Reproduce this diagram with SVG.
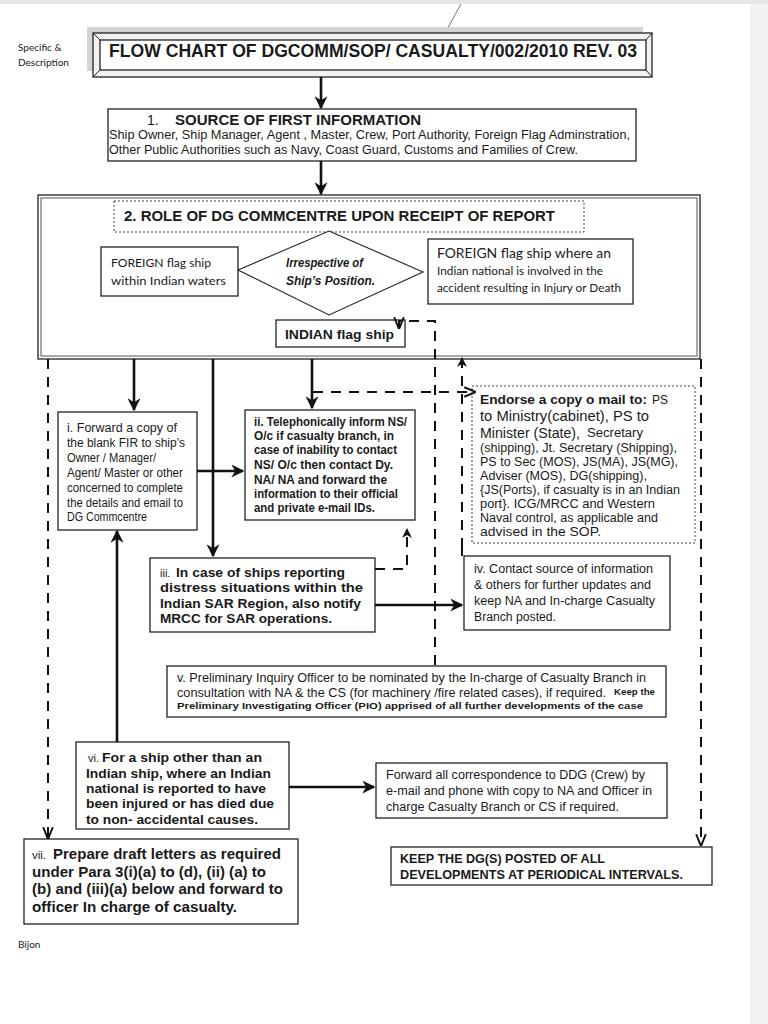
<svg xmlns="http://www.w3.org/2000/svg" width="768" height="1024" viewBox="0 0 768 1024">
<defs>
<marker id="ah" viewBox="0 0 10 10" refX="9" refY="5" markerWidth="5" markerHeight="5" orient="auto" markerUnits="strokeWidth">
<path d="M0,0 L10,5 L0,10 L3,5 z" fill="#111"/>
</marker>
<marker id="ahd" viewBox="0 0 10 10" refX="9" refY="5" markerWidth="5" markerHeight="5" orient="auto" markerUnits="strokeWidth">
<path d="M0,0 L10,5 L0,10 L3,5 z" fill="#111"/>
</marker>
<marker id="ahs" viewBox="0 0 10 10" refX="9" refY="5" markerWidth="6" markerHeight="6" orient="auto" markerUnits="strokeWidth">
<path d="M0,1 L10,5 L0,9" fill="none" stroke="#111" stroke-width="1.6"/>
</marker>
</defs>
<style>
.bx{fill:#fff;stroke:#222;stroke-width:1.3}
.dot{fill:#fff;stroke:#444;stroke-width:1;stroke-dasharray:2,2}
.t{font-family:"Liberation Sans",Arial,sans-serif;fill:#1a1a1a}
.c{font-family:Lato,"Open Sans",sans-serif;fill:#1a1a1a}
.b{font-weight:bold}
.sol{fill:none;stroke:#111;stroke-width:2.6}
.das{fill:none;stroke:#111;stroke-width:2;stroke-dasharray:10,8}
</style>
<rect x="0" y="0" width="768" height="1024" fill="#fff"/>
<rect x="750" y="0" width="18" height="1024" fill="#f1f1f1"/>
<rect x="0" y="0" width="768" height="4" fill="#e6e6e6"/>
<path d="M461,4 L428,64" fill="none" stroke="#777" stroke-width="1"/>

<g id="side-labels">
<text class="c" x="18" y="51" font-size="10">Specific &amp;</text>
<text class="c" x="18" y="66" font-size="10">Description</text>
<text class="c" x="18" y="948" font-size="10">Bijon</text>
</g>

<g id="title">
<rect x="87" y="27" width="556" height="44" fill="#d4d4d4"/>
<rect x="93" y="33" width="559" height="44" fill="#f2f2f2" stroke="#222" stroke-width="1.3"/>
<rect x="100" y="40" width="546" height="30" fill="#fff" stroke="#222" stroke-width="1.3"/>
<path d="M93,33 L100,40 M652,33 L646,40 M93,77 L100,70 M652,77 L646,70" stroke="#222" stroke-width="1"/>
<text class="t b" x="109" y="57" font-size="18" textLength="528" lengthAdjust="spacingAndGlyphs">FLOW CHART OF DGCOMM/SOP/ CASUALTY/002/2010 REV. 03</text>
</g>

<g id="source">
<rect class="bx" x="108" y="109" width="528" height="52"/>
<text class="t" x="147" y="125" font-size="14">1.</text>
<text class="t b" x="175" y="125" font-size="14" textLength="246" lengthAdjust="spacingAndGlyphs">SOURCE OF FIRST INFORMATION</text>
<text class="t" x="109" y="139" font-size="12" textLength="521" lengthAdjust="spacingAndGlyphs">Ship Owner,  Ship Manager, Agent , Master, Crew, Port Authority, Foreign Flag Adminstration,</text>
<text class="t" x="109" y="154" font-size="12" textLength="469" lengthAdjust="spacingAndGlyphs">Other Public Authorities such as Navy, Coast Guard, Customs and Families of Crew.</text>
</g>

<g id="role">
<rect x="38" y="195" width="662" height="164" fill="#fff" stroke="#222" stroke-width="1.3"/>
<rect x="41" y="198" width="656" height="158" fill="none" stroke="#555" stroke-width="1"/>
<rect class="dot" x="114" y="201" width="470" height="31"/>
<text class="t b" x="124" y="221" font-size="15" textLength="431" lengthAdjust="spacingAndGlyphs">2. ROLE OF DG COMMCENTRE UPON RECEIPT OF REPORT</text>
</g>

<g id="foreign-left">
<rect class="bx" x="101" y="247" width="137" height="49"/>
<text class="c" x="111" y="267" font-size="12" textLength="100" lengthAdjust="spacingAndGlyphs">FOREIGN flag ship</text>
<text class="c" x="111" y="285" font-size="12" textLength="115" lengthAdjust="spacingAndGlyphs">within Indian waters</text>
</g>

<g id="diamond">
<path d="M329,231 L423,272 L329,315 L238,270 Z" fill="#fff" stroke="#222" stroke-width="1.1"/>
<text class="t b" x="286" y="267" font-size="12" font-style="italic" textLength="77" lengthAdjust="spacingAndGlyphs">Irrespective of</text>
<text class="t b" x="286" y="285" font-size="12" font-style="italic" textLength="89" lengthAdjust="spacingAndGlyphs">Ship’s Position.</text>
</g>

<g id="foreign-right">
<rect class="bx" x="428" y="239" width="205" height="65"/>
<text class="c" x="437" y="258" font-size="13" textLength="174" lengthAdjust="spacingAndGlyphs">FOREIGN flag ship where an</text>
<text class="c" x="437" y="275" font-size="11.5" textLength="166" lengthAdjust="spacingAndGlyphs">Indian national is involved in the</text>
<text class="c" x="437" y="292" font-size="11.5" textLength="184" lengthAdjust="spacingAndGlyphs">accident resulting in Injury or Death</text>
</g>

<g id="indian">
<rect class="bx" x="276" y="320" width="129" height="27"/>
<text class="t b" x="285" y="339" font-size="13" textLength="109" lengthAdjust="spacingAndGlyphs">INDIAN flag ship</text>
</g>

<g id="box-i">
<rect class="bx" x="58" y="412" width="139" height="118"/>
<g class="t" font-size="12.5">
<text x="67" y="432" textLength="110" lengthAdjust="spacingAndGlyphs">i. Forward a copy of</text>
<text x="67" y="447" textLength="118" lengthAdjust="spacingAndGlyphs">the blank FIR to ship’s</text>
<text x="67" y="462" textLength="89" lengthAdjust="spacingAndGlyphs">Owner / Manager/</text>
<text x="67" y="477" textLength="116" lengthAdjust="spacingAndGlyphs">Agent/ Master or other</text>
<text x="67" y="492" textLength="116" lengthAdjust="spacingAndGlyphs">concerned to complete</text>
<text x="67" y="507" textLength="116" lengthAdjust="spacingAndGlyphs">the details and email to</text>
<text x="67" y="521" textLength="80" lengthAdjust="spacingAndGlyphs">DG Commcentre</text>
</g>
</g>

<g id="box-ii">
<rect class="bx" x="245" y="410" width="170" height="110"/>
<g class="t b" font-size="12">
<text x="254" y="426" textLength="153" lengthAdjust="spacingAndGlyphs">ii. Telephonically inform NS/</text>
<text x="254" y="440" textLength="140" lengthAdjust="spacingAndGlyphs">O/c if casualty branch, in</text>
<text x="254" y="454" textLength="143" lengthAdjust="spacingAndGlyphs">case of inability to contact</text>
<text x="254" y="469" textLength="139" lengthAdjust="spacingAndGlyphs">NS/ O/c then contact Dy.</text>
<text x="254" y="484" textLength="133" lengthAdjust="spacingAndGlyphs">NA/ NA and forward the</text>
<text x="254" y="498" textLength="144" lengthAdjust="spacingAndGlyphs">information to their official</text>
<text x="254" y="512" textLength="121" lengthAdjust="spacingAndGlyphs">and private e-mail IDs.</text>
</g>
</g>

<g id="endorse">
<rect class="dot" x="472" y="386" width="223" height="157"/>
<text class="t b" x="480" y="404" font-size="13" textLength="167" lengthAdjust="spacingAndGlyphs">Endorse a copy o mail to:</text>
<text class="t" x="652" y="404" font-size="13.5" textLength="16" lengthAdjust="spacingAndGlyphs">PS</text>
<text class="t" x="480" y="421" font-size="15" textLength="169" lengthAdjust="spacingAndGlyphs">to Ministry(cabinet), PS to</text>
<text class="t" x="480" y="438" font-size="15" textLength="100" lengthAdjust="spacingAndGlyphs">Minister (State),</text>
<text class="t" x="587" y="437" font-size="12" textLength="56" lengthAdjust="spacingAndGlyphs">Secretary</text>
<g class="t" font-size="12">
<text x="480" y="452" textLength="197" lengthAdjust="spacingAndGlyphs">(shipping), Jt. Secretary (Shipping),</text>
<text x="480" y="466" textLength="198" lengthAdjust="spacingAndGlyphs">PS to Sec (MOS), JS(MA), JS(MG),</text>
<text x="480" y="480" textLength="167" lengthAdjust="spacingAndGlyphs">Adviser (MOS), DG(shipping),</text>
<text x="480" y="494" textLength="200" lengthAdjust="spacingAndGlyphs">{JS(Ports), if casualty is in an Indian</text>
<text x="480" y="508" textLength="175" lengthAdjust="spacingAndGlyphs">port}. ICG/MRCC and Western</text>
<text x="480" y="522" textLength="178" lengthAdjust="spacingAndGlyphs">Naval control, as applicable and</text>
<text x="480" y="536" textLength="121" lengthAdjust="spacingAndGlyphs">advised in the SOP.</text>
</g>
</g>

<g id="box-iii">
<rect class="bx" x="150" y="558" width="225" height="74"/>
<text class="t" x="160" y="577" font-size="11">iii.</text>
<g class="t b" font-size="13.5">
<text x="176" y="577" textLength="169" lengthAdjust="spacingAndGlyphs">In case of ships reporting</text>
<text x="160" y="592" textLength="203" lengthAdjust="spacingAndGlyphs">distress situations within the</text>
<text x="160" y="608" textLength="201" lengthAdjust="spacingAndGlyphs">Indian SAR Region, also notify</text>
<text x="160" y="623" textLength="172" lengthAdjust="spacingAndGlyphs">MRCC for SAR operations.</text>
</g>
</g>

<g id="box-iv">
<rect class="bx" x="464" y="556" width="206" height="74"/>
<g class="t" font-size="12">
<text x="474" y="573" textLength="179" lengthAdjust="spacingAndGlyphs">iv. Contact source of information</text>
<text x="474" y="589" textLength="177" lengthAdjust="spacingAndGlyphs">&amp; others for further updates and</text>
<text x="474" y="605" textLength="181" lengthAdjust="spacingAndGlyphs">keep NA and In-charge Casualty</text>
<text x="474" y="621" textLength="82" lengthAdjust="spacingAndGlyphs">Branch posted.</text>
</g>
</g>

<g id="box-v">
<rect class="bx" x="167" y="666" width="499" height="51"/>
<text class="t" x="177" y="682" font-size="12" textLength="469" lengthAdjust="spacingAndGlyphs">v. Preliminary Inquiry Officer to be nominated by the In-charge of Casualty Branch in</text>
<text class="t" x="177" y="697" font-size="12" textLength="429" lengthAdjust="spacingAndGlyphs">consultation with NA &amp;  the CS (for machinery /fire related cases), if required.</text>
<text class="t b" x="614" y="695" font-size="9.5" textLength="41" lengthAdjust="spacingAndGlyphs">Keep the</text>
<text class="t b" x="177" y="709" font-size="9.5" textLength="466" lengthAdjust="spacingAndGlyphs">Preliminary Investigating Officer (PIO) apprised of all further developments of the case</text>
</g>

<g id="box-vi">
<rect class="bx" x="76" y="742" width="213" height="87"/>
<text class="t" x="88" y="762" font-size="11">vi.</text>
<g class="t b" font-size="13.5">
<text x="102" y="762" textLength="160" lengthAdjust="spacingAndGlyphs">For a ship other than an</text>
<text x="86" y="778" textLength="185" lengthAdjust="spacingAndGlyphs">Indian ship, where an Indian</text>
<text x="86" y="793" textLength="180" lengthAdjust="spacingAndGlyphs">national is reported to have</text>
<text x="86" y="808" textLength="188" lengthAdjust="spacingAndGlyphs">been injured or has died due</text>
<text x="86" y="824" textLength="172" lengthAdjust="spacingAndGlyphs">to non- accidental causes.</text>
</g>
</g>

<g id="forward">
<rect class="bx" x="376" y="763" width="291" height="55"/>
<g class="t" font-size="12.5">
<text x="386" y="779" textLength="259" lengthAdjust="spacingAndGlyphs">Forward all correspondence to DDG (Crew) by</text>
<text x="386" y="795" textLength="266" lengthAdjust="spacingAndGlyphs">e-mail and phone with copy to NA and Officer in</text>
<text x="386" y="811" textLength="233" lengthAdjust="spacingAndGlyphs">charge Casualty Branch or CS if required.</text>
</g>
</g>

<g id="box-vii">
<rect class="bx" x="24" y="839" width="274" height="85"/>
<text class="t" x="32" y="859" font-size="11.5">vii.</text>
<g class="t b" font-size="14.5">
<text x="53" y="859" textLength="228" lengthAdjust="spacingAndGlyphs">Prepare draft letters as required</text>
<text x="32" y="877" textLength="234" lengthAdjust="spacingAndGlyphs">under Para 3(i)(a) to (d), (ii) (a) to</text>
<text x="32" y="894" textLength="251" lengthAdjust="spacingAndGlyphs">(b) and (iii)(a) below and forward to</text>
<text x="32" y="912" textLength="205" lengthAdjust="spacingAndGlyphs">officer In charge of casualty.</text>
</g>
</g>

<g id="keep">
<rect class="bx" x="391" y="847" width="321" height="38"/>
<text class="t b" x="400" y="863" font-size="12.5" textLength="205" lengthAdjust="spacingAndGlyphs">KEEP THE DG(S) POSTED OF ALL</text>
<text class="t b" x="400" y="879" font-size="12.5" textLength="283" lengthAdjust="spacingAndGlyphs">DEVELOPMENTS AT PERIODICAL INTERVALS.</text>
</g>

<g id="connectors">
<path class="sol" d="M321,77 L321,108" marker-end="url(#ah)"/>
<path class="sol" d="M321,161 L321,194" marker-end="url(#ah)"/>
<path class="sol" d="M134,359 L134,410" marker-end="url(#ah)"/>
<path class="sol" d="M213,359 L213,556" stroke-width="2" marker-end="url(#ah)"/>
<path class="sol" d="M312,359 L312,408" marker-end="url(#ah)"/>
<path class="sol" d="M197,471 L243,471" marker-end="url(#ah)"/>
<path class="sol" d="M375,605 L462,605" marker-end="url(#ah)"/>
<path class="sol" d="M117,742 L117,531" stroke-width="2.2" marker-end="url(#ah)"/>
<path class="sol" d="M289,787 L374,787" stroke-width="2.2" marker-end="url(#ah)"/>
<path class="das" d="M435,665 L435,321 L399,321 L399,328" marker-end="url(#ahs)" stroke-dasharray="10,8"/>
<path class="das" d="M313,392 L475,392" marker-end="url(#ahs)"/>
<path d="M462,556 L462,548" stroke="#111" stroke-width="2"/>
<path class="das" d="M462,548 L462,358" marker-end="url(#ahd)"/>
<path class="das" d="M375,569 L407,569 L407,529" marker-end="url(#ahd)" stroke-dasharray="8,6"/>
<path class="das" d="M48,359 L48,838" marker-end="url(#ahs)"/>
<path class="das" d="M701,359 L701,845" marker-end="url(#ahs)"/>
</g>
</svg>
